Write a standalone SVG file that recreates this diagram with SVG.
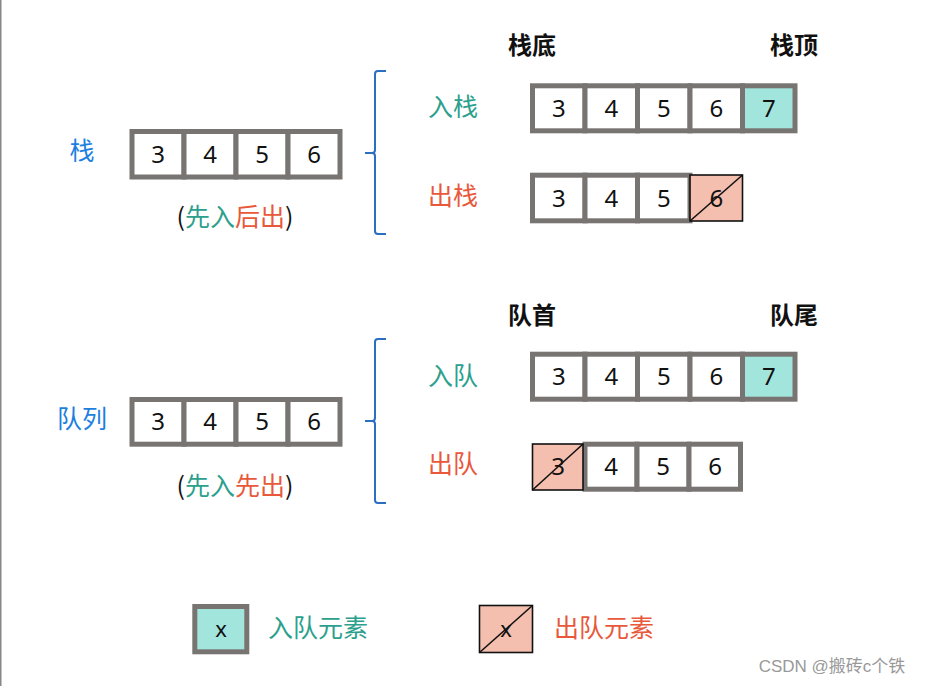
<svg xmlns="http://www.w3.org/2000/svg" width="926" height="686" viewBox="0 0 926 686">
<style>
.cell{fill:#fff;stroke:#787472;stroke-width:5}
.in{fill:#a2e5dc;stroke:#787472;stroke-width:5}
.out{fill:#f4bfae;stroke:#111;stroke-width:1.6}
.slash{stroke:#111;stroke-width:1.6}
.num{font-family:"Noto Sans","Open Sans","Liberation Sans",sans-serif;font-size:24px;fill:#111;text-anchor:middle;dominant-baseline:central}
.lbl{font-family:"Noto Sans CJK SC","Noto Sans",sans-serif;font-size:25px;text-anchor:middle;dominant-baseline:central}
.head{font-family:"Noto Sans CJK SC","Noto Sans",sans-serif;font-size:24px;font-weight:bold;fill:#111;text-anchor:middle;dominant-baseline:central}
.teal{fill:#2ba08c}
.red{fill:#e8583b}
.blue{fill:#1c7fe0}
.blk{fill:#111}
.brace{fill:none;stroke:#2a6fc0;stroke-width:2}
</style>
<rect x="0" y="0" width="926" height="686" fill="#fff"/>
<line x1="0.75" y1="0" x2="0.75" y2="686" stroke="#888" stroke-width="1.5"/>

<g id="stack-label"><text class="lbl blue" x="82" y="149">栈</text></g>
<g id="stack-box">
<rect class="cell" x="132" y="131.5" width="52" height="45.5"/>
<rect class="cell" x="184" y="131.5" width="52" height="45.5"/>
<rect class="cell" x="236" y="131.5" width="52" height="45.5"/>
<rect class="cell" x="288" y="131.5" width="52" height="45.5"/>
<text class="num" x="158" y="153">3</text><text class="num" x="210" y="153">4</text><text class="num" x="262" y="153">5</text><text class="num" x="314" y="153">6</text>
</g>
<g id="stack-note"><text class="lbl" x="235" y="215"><tspan class="blk">(</tspan><tspan class="teal">先入</tspan><tspan class="red">后出</tspan><tspan class="blk">)</tspan></text></g>

<g id="connectors">
<path class="brace" d="M386,71 H378 Q375,71 375,74 V150 Q375,153 372,153 H365 M372,153 Q375,153 375,156 V231 Q375,234 378,234 H386"/>
<path class="brace" d="M386,339 H378 Q375,339 375,342 V418 Q375,421 372,421 H365 M372,421 Q375,421 375,424 V500 Q375,503 378,503 H386"/>
</g>

<g id="stack-bottom-label"><text class="head" x="532" y="43">栈底</text></g>
<g id="stack-top-label"><text class="head" x="794" y="43">栈顶</text></g>

<g id="push-label"><text class="lbl teal" x="453" y="105">入栈</text></g>
<g id="push-row">
<rect class="cell" x="532.5" y="85.8" width="52.5" height="45"/>
<rect class="cell" x="585" y="85.8" width="52.5" height="45"/>
<rect class="cell" x="637.5" y="85.8" width="52.5" height="45"/>
<rect class="cell" x="690" y="85.8" width="52.5" height="45"/>
<rect class="in" x="742.5" y="85.8" width="52.5" height="45"/>
<text class="num" x="558.75" y="107.3">3</text><text class="num" x="611.25" y="107.3">4</text><text class="num" x="663.75" y="107.3">5</text><text class="num" x="716.25" y="107.3">6</text><text class="num" x="768.75" y="107.3">7</text>
</g>

<g id="pop-label"><text class="lbl red" x="453" y="194">出栈</text></g>
<g id="pop-row">
<rect class="cell" x="532.5" y="175.2" width="52.5" height="45.6"/>
<rect class="cell" x="585" y="175.2" width="52.5" height="45.6"/>
<rect class="cell" x="637.5" y="175.2" width="52.5" height="45.6"/>
<rect class="out" x="690" y="175" width="52.5" height="46"/>
<text class="num" x="558.75" y="197">3</text><text class="num" x="611.25" y="197">4</text><text class="num" x="663.75" y="197">5</text><text class="num" x="716.25" y="197">6</text>
<line class="slash" x1="690" y1="221" x2="742.5" y2="175"/>
</g>

<g id="queue-label"><text class="lbl blue" x="82" y="417">队列</text></g>
<g id="queue-box">
<rect class="cell" x="132" y="399.5" width="52" height="44.7"/>
<rect class="cell" x="184" y="399.5" width="52" height="44.7"/>
<rect class="cell" x="236" y="399.5" width="52" height="44.7"/>
<rect class="cell" x="288" y="399.5" width="52" height="44.7"/>
<text class="num" x="158" y="420.8">3</text><text class="num" x="210" y="420.8">4</text><text class="num" x="262" y="420.8">5</text><text class="num" x="314" y="420.8">6</text>
</g>
<g id="queue-note"><text class="lbl" x="235" y="484"><tspan class="blk">(</tspan><tspan class="teal">先入</tspan><tspan class="red">先出</tspan><tspan class="blk">)</tspan></text></g>

<g id="queue-head-label"><text class="head" x="532" y="313">队首</text></g>
<g id="queue-tail-label"><text class="head" x="794" y="313">队尾</text></g>

<g id="enqueue-label"><text class="lbl teal" x="453" y="374">入队</text></g>
<g id="enqueue-row">
<rect class="cell" x="532.5" y="354.2" width="52.5" height="45"/>
<rect class="cell" x="585" y="354.2" width="52.5" height="45"/>
<rect class="cell" x="637.5" y="354.2" width="52.5" height="45"/>
<rect class="cell" x="690" y="354.2" width="52.5" height="45"/>
<rect class="in" x="742.5" y="354.2" width="52.5" height="45"/>
<text class="num" x="558.75" y="375.7">3</text><text class="num" x="611.25" y="375.7">4</text><text class="num" x="663.75" y="375.7">5</text><text class="num" x="716.25" y="375.7">6</text><text class="num" x="768.75" y="375.7">7</text>
</g>

<g id="dequeue-label"><text class="lbl red" x="453" y="462">出队</text></g>
<g id="dequeue-row">
<rect class="cell" x="585" y="444.2" width="52" height="45"/>
<rect class="cell" x="637" y="444.2" width="52" height="45"/>
<rect class="cell" x="689" y="444.2" width="51.5" height="45"/>
<rect class="out" x="532.5" y="444" width="50.5" height="46"/>
<text class="num" x="558" y="465.7">3</text><text class="num" x="611" y="465.7">4</text><text class="num" x="663" y="465.7">5</text><text class="num" x="715" y="465.7">6</text>
<line class="slash" x1="532.5" y1="490" x2="583" y2="444"/>
</g>

<g id="legend-in">
<rect class="in" x="194.8" y="606.5" width="52" height="45.3"/>
<text class="num" x="221" y="628" style="font-size:22px">x</text>
<text class="lbl teal" x="318" y="626">入队元素</text>
</g>
<g id="legend-out">
<rect class="out" x="479.5" y="605.5" width="53" height="47"/>
<line class="slash" x1="479.5" y1="652.5" x2="532.5" y2="605.5"/>
<text class="num" x="506" y="628" style="font-size:22px">x</text>
<text class="lbl red" x="604" y="626">出队元素</text>
</g>

<g id="watermark"><text x="832" y="666" style="font-family:'Liberation Sans','Noto Sans CJK SC',sans-serif;font-size:17px;fill:#999;text-anchor:middle;dominant-baseline:central">CSDN @搬砖c个铁</text></g>
</svg>
